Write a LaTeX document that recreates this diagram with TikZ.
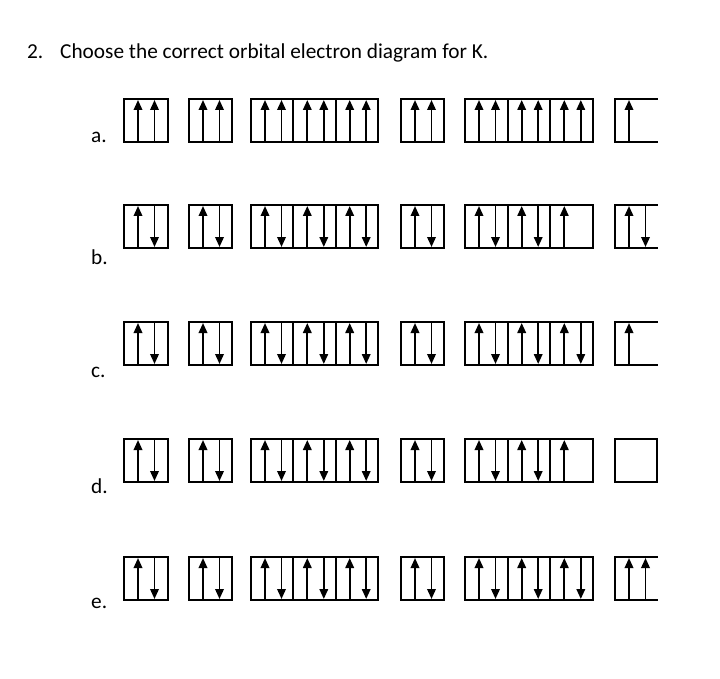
\documentclass[tikz,border=0pt]{standalone}
\usepackage{fontspec}
\setmainfont{Carlito}
\usetikzlibrary{arrows.meta}
\tikzset{
  boxline/.style={line width=2pt, line cap=rect},
  uparr/.style={line width=1.9pt, -{Triangle[width=8.5pt,length=10pt]}},
  pics/orbuu/.style={code={\draw[uparr] (14,43) -- (14,1); \draw[uparr] (30.5,43) -- (30.5,1);}},
  pics/orbud/.style={code={\draw[uparr] (14,43) -- (14,1); \draw[uparr] (30.5,0) -- (30.5,42);}},
  pics/orbu/.style={code={\draw[uparr] (14,43) -- (14,1);}},
  pics/orbn/.style={code={}},
  lbl/.style={anchor=base west, inner sep=0pt, font=\fontsize{21.3}{25}\selectfont},
}
\newcommand\orbrow[3]{% #1 top y, #2 codes, #3 closed last box (1/0)
  \foreach \c [count=\i] in {#2} {
    \pgfmathsetmacro\xx{{124,189,251,293.3,335.7,401,465,507.7,550.3,615}[\i-1]}
    \pic at (\xx,#1) {\c};
  }
  \draw[boxline] (124,#1) rectangle (168,#1+43);
  \draw[boxline] (189,#1) rectangle (232,#1+43);
  \draw[boxline] (251,#1) rectangle (378,#1+43);
  \draw[boxline] (293.3,#1) -- (293.3,#1+43) (335.7,#1) -- (335.7,#1+43);
  \draw[boxline] (401,#1) rectangle (444,#1+43);
  \draw[boxline] (465,#1) rectangle (593,#1+43);
  \draw[boxline] (507.7,#1) -- (507.7,#1+43) (550.3,#1) -- (550.3,#1+43);
  \ifnum#3=1
    \draw[boxline] (615,#1) rectangle (657,#1+43);
  \else
    \draw[boxline] (657,#1) -- (615,#1) -- (615,#1+43) -- (657,#1+43);
  \fi
}
\begin{document}
\begin{tikzpicture}[x=1pt, y=-1pt]
\useasboundingbox[fill=white] (0,0) rectangle (720,679);
\node[lbl] (num) at (27,59) {2.};
\node[lbl] (title) at (60,59) {Choose the correct orbital electron diagram for K.};
\node[lbl] (la) at (91,143) {a.};
\node[lbl] (lb) at (91,264) {b.};
\node[lbl] (lc) at (91,377) {c.};
\node[lbl] (ld) at (91,493) {d.};
\node[lbl] (le) at (91,608) {e.};
\orbrow{99}{orbuu,orbuu,orbuu,orbuu,orbuu,orbuu,orbuu,orbuu,orbuu,orbu}{0}
\orbrow{205}{orbud,orbud,orbud,orbud,orbud,orbud,orbud,orbud,orbu,orbud}{0}
\orbrow{322}{orbud,orbud,orbud,orbud,orbud,orbud,orbud,orbud,orbud,orbu}{0}
\orbrow{439}{orbud,orbud,orbud,orbud,orbud,orbud,orbud,orbud,orbu,orbn}{1}
\orbrow{557}{orbud,orbud,orbud,orbud,orbud,orbud,orbud,orbud,orbud,orbuu}{0}
\end{tikzpicture}
\end{document}
